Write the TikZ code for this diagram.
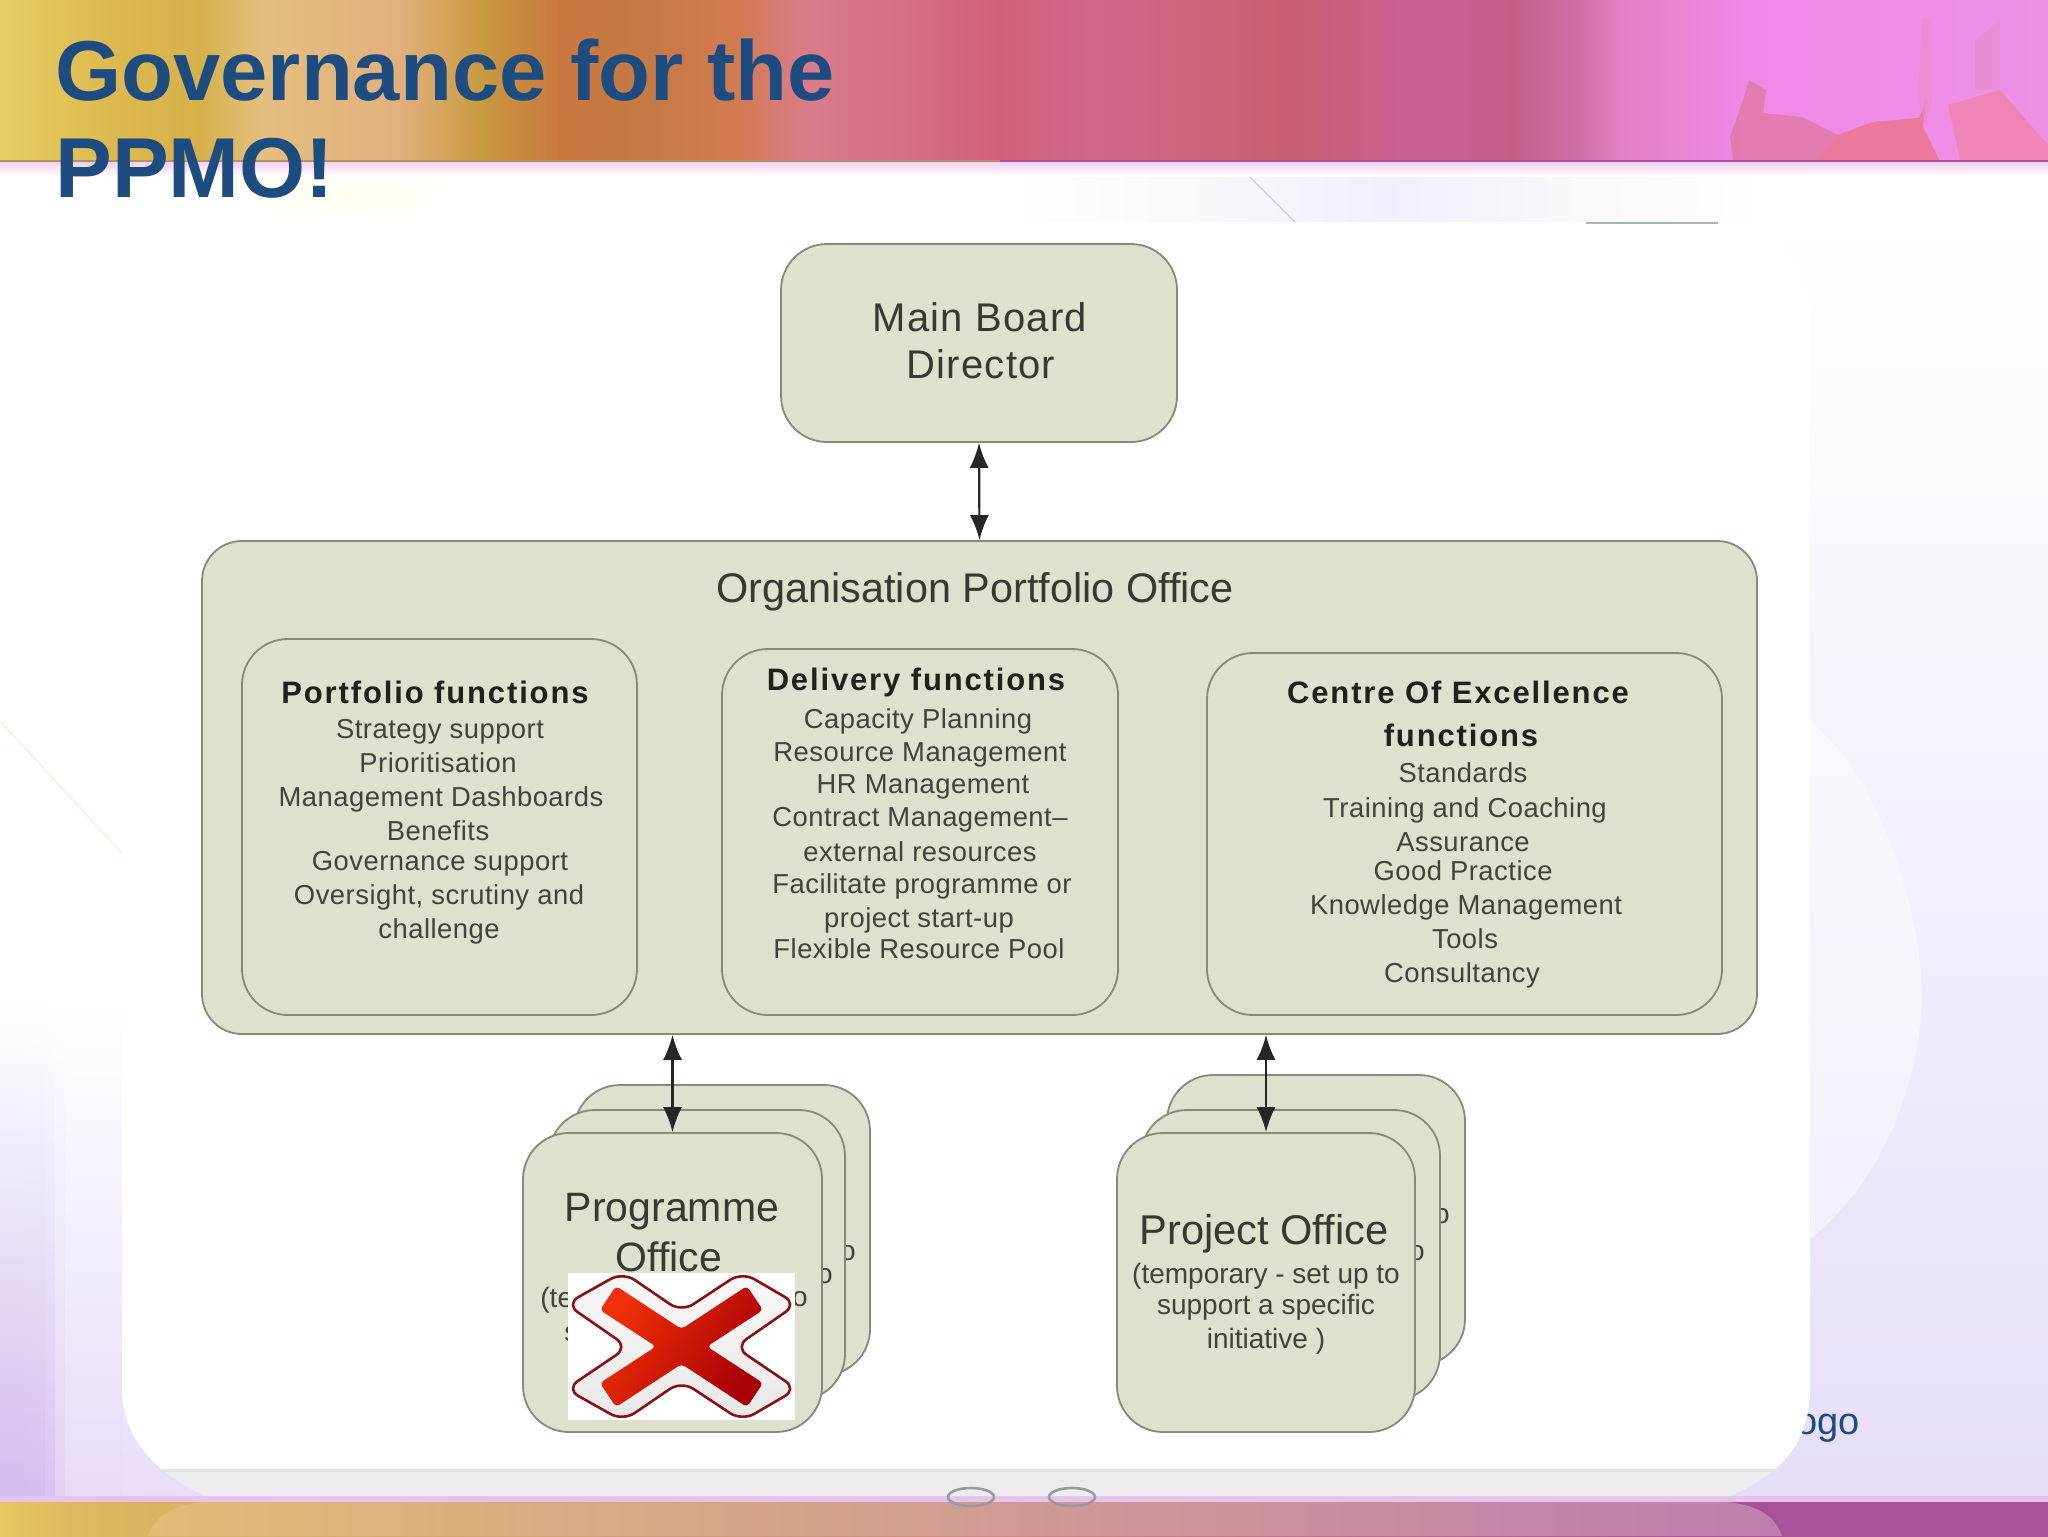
\documentclass[tikz,border=0pt]{standalone}
\usepackage{fontspec}
\setmainfont{Liberation Sans}
\newfontfamily\trackbold[LetterSpace=6]{Liberation Sans}
\newfontfamily\tracktext[LetterSpace=1.8]{Liberation Sans}
\usetikzlibrary{arrows.meta}
\newcommand{\pxfont}[1]{\fontsize{#1}{#1}\selectfont}
\newcommand{\hexcolor}[1]{\definecolor{c#1}{HTML}{#1}}
\hexcolor{F0F0FA}\hexcolor{D0BCEE}\hexcolor{F3EEFC}\hexcolor{E8DCF8}\hexcolor{F7F3FD}\hexcolor{E6DCF8}
\hexcolor{F4F0FC}\hexcolor{F4F4E6}\hexcolor{CFCFE0}\hexcolor{F0CDEE}\hexcolor{E07AA8}\hexcolor{F0788E}
\hexcolor{E88CC8}\hexcolor{F0809E}\hexcolor{B0906C}\hexcolor{A855A5}\hexcolor{E6C4EA}\hexcolor{E2BB74}
\hexcolor{D08C98}\hexcolor{BE7EB0}\hexcolor{EDEDF1}\hexcolor{E3E3E6}\hexcolor{A8B4B4}\hexcolor{9A9A9E}
\hexcolor{F8F8F8}\hexcolor{E8E8E8}\hexcolor{8E0F12}\hexcolor{F03008}\hexcolor{A80006}
\definecolor{titleblue}{HTML}{1C4C80}
\definecolor{cardfill}{HTML}{DDE1CD}
\definecolor{cardline}{HTML}{858A79}
\definecolor{bodytext}{HTML}{3F443C}
\definecolor{headtext}{HTML}{1E221C}
\definecolor{sectext}{HTML}{363A32}
\definecolor{ha}{HTML}{E5CF63}\definecolor{hb}{HTML}{DEBB50}\definecolor{hc}{HTML}{D6B04A}
\definecolor{hd}{HTML}{E3BF7E}\definecolor{he}{HTML}{E1B07C}\definecolor{hf}{HTML}{C99A40}
\definecolor{hg}{HTML}{C8783F}\definecolor{hh}{HTML}{C67A45}\definecolor{hi}{HTML}{D27A52}
\definecolor{hj}{HTML}{D97C8A}\definecolor{hk}{HTML}{D4708A}\definecolor{hl}{HTML}{D0607A}
\definecolor{hm}{HTML}{D0688C}\definecolor{hn}{HTML}{C86070}\definecolor{ho}{HTML}{C86090}
\definecolor{hp}{HTML}{C46088}\definecolor{hq}{HTML}{D070A8}\definecolor{hr}{HTML}{E480C4}
\definecolor{hs}{HTML}{F088E8}\definecolor{ht}{HTML}{EE90E4}
\definecolor{ba}{HTML}{E6C860}\definecolor{bb}{HTML}{DDB860}\definecolor{bc}{HTML}{C88A80}
\definecolor{bd}{HTML}{A85098}
\pgfdeclarehorizontalshading{headerband}{100bp}{
color(0bp)=(ha); color(25bp)=(ha); color(27.44bp)=(hb); color(29.88bp)=(hc);
color(31.35bp)=(hd); color(34.77bp)=(he); color(36.72bp)=(hf); color(38.67bp)=(hg);
color(40.87bp)=(hh); color(43.07bp)=(hi); color(44.63bp)=(hj); color(46.97bp)=(hk);
color(49.41bp)=(hl); color(51.61bp)=(hm); color(56.37bp)=(hn); color(59.18bp)=(ho);
color(61.96bp)=(hp); color(63.57bp)=(hq); color(64.55bp)=(hr); color(67.72bp)=(hs);
color(75bp)=(ht); color(100bp)=(ht)}
\pgfdeclarehorizontalshading{footerband}{100bp}{
color(0bp)=(ba); color(25bp)=(ba); color(26.8bp)=(bb); color(50bp)=(bc);
color(66bp)=(bd); color(75bp)=(bd); color(100bp)=(bd)}
\begin{document}
\begin{tikzpicture}[x=0.5pt,y=-0.5pt,
  card/.style={draw=cardline,line width=0.9pt,fill=cardfill,rounded corners=23pt,inner sep=0pt},
  txt/.style={inner sep=0pt,anchor=mid,yshift=-1.5pt,text=bodytext,font=\tracktext\pxfont{13.7pt}},
  subtxt/.style={txt,font=\pxfont{14pt}},
  sectitle/.style={inner sep=0pt,anchor=mid,yshift=-2.5pt,text=headtext,font=\trackbold\bfseries\pxfont{15.5pt}},
  bigtxt/.style={inner sep=0pt,anchor=mid,yshift=-4.5pt,text=sectext,font=\pxfont{20.5pt}},
  linkarrow/.style={{Latex[length=12.5pt,width=9.5pt]}-{Latex[length=12.5pt,width=9.5pt]},draw=black!85,line width=1.1pt},
  titletxt/.style={inner sep=0pt,anchor=base west,text=titleblue,font=\bfseries\pxfont{42.5pt}}]
\clip (0,0) rectangle (2048,1536);
\fill[white] (0,0) rectangle (2048,1536);
% background
\shade[left color=white,right color=white,middle color=cF0F0FA] (1010,163) rectangle (1760,222);
\shade[inner color=yellow!7,outer color=white] (220,165) rectangle (460,222);
\foreach \xa/\xb/\mixa in {0/25/100,25/45/95,45/55/75,55/65/35,65/122/5,122/300/0}{
  \shade[top color=white,middle color=cF3EEFC!\mixa!cF7F3FD,bottom color=cD0BCEE!\mixa!cE8DCF8] (\xa,1000) rectangle (\xb+1,1502);
}
\shade[top color=white,bottom color=cE6DCF8,middle color=cF4F0FC] (1650,222) rectangle (2048,1502);
\fill[white,opacity=0.45] (1810,721) .. controls (1873,770) and (1922,900) .. (1922,1002) .. controls (1915,1120) and (1860,1200) .. (1810,1239) -- cycle;
\draw[cF4F4E6,line width=1pt] (0,721) -- (122,853);
\draw[cCFCFE0,line width=0.6pt] (1236,163) -- (1295,222);
\shade[top color=cF0CDEE,bottom color=white] (0,161) rectangle (2048,176);
% header
\shade[shading=headerband] (0,0) rectangle (2048,161);
\fill[cE07AA8,opacity=0.85] (1733,160) -- (1730,137) -- (1743,100) -- (1749,80) -- (1766,90) -- (1763,113) -- (1802,117) -- (1838,135) -- (1873,122) -- (1919,118) -- (1926,100) -- (1923,127) -- (1939,160) -- cycle;
\fill[cF0788E,opacity=0.6] (1815,160) -- (1838,135) -- (1873,122) -- (1919,118) -- (1923,127) -- (1939,160) -- cycle;
\fill[cE88CC8,opacity=0.55] (1922,18) -- (1932,18) -- (1932,100) -- (1926,125) -- (1918,100) -- cycle;
\fill[cE88CC8,opacity=0.55] (1975,40) -- (2000,20) -- (2000,90) -- (1975,90) -- cycle;
\fill[cF0809E,opacity=0.65] (1948,105) -- (2000,90) -- (2048,145) -- (2048,160) -- (1960,160) -- cycle;
\fill[cB0906C] (0,160) rectangle (1000,162);
\fill[cA855A5] (1000,160) rectangle (2048,162);
% footer
\fill[cE6C4EA] (0,1496) rectangle (2048,1502);
\shade[shading=footerband] (0,1502) rectangle (2048,1536);
\shade[left color=cE2BB74,middle color=cD08C98,right color=cBE7EB0] (148,1536) .. controls (155,1515) and (175,1504) .. (205,1502) -- (1725,1502) .. controls (1755,1504) and (1775,1515) .. (1782,1536) -- cycle;
% logo placeholder, mostly behind the panel
\node[inner sep=0pt,anchor=base east,text=titleblue,font=\pxfont{19pt}] (logotext) at (1860,1434) {Logo};
% white panel
\begin{scope}
\path[clip] (190,222) -- (1720,222) .. controls (1785,228) and (1810,270) .. (1810,320) -- (1810,1388) .. controls (1810,1435) and (1790,1470) .. (1730,1496) -- (205,1496) .. controls (150,1470) and (122,1435) .. (122,1388) -- (122,335) .. controls (122,265) and (145,228) .. (190,222) -- cycle;
\fill[cEDEDF1] (100,1470) rectangle (1830,1500);
\fill[white] (100,200) rectangle (1830,1470);
\fill[cE3E3E6] (100,1469) rectangle (1830,1472);
\end{scope}
\draw[cA8B4B4,line width=0.8pt] (1586,223) -- (1718,223);
\draw[c9A9A9E,line width=1.3pt] (971,1497) ellipse (23 and 9);
\draw[c9A9A9E,line width=1.3pt] (1072,1497) ellipse (23 and 9);
% title
\node[titletxt] (titleone) at (55,100) {Governance for the};
\node[titletxt] (titletwo) at (55,197) {PPMO!};
% top boxes
\node[card,minimum width=198pt,minimum height=99pt] (board) at (979,343) {};
\node[bigtxt,font=\pxfont{20pt}] (boardone) at (980,317) {\addfontfeature{LetterSpace=3}Main Board};
\node[bigtxt,font=\pxfont{20pt}] (boardtwo) at (981,364) {\addfontfeature{LetterSpace=3}Director};
\node[card,minimum width=777.5pt,minimum height=246.5pt,rounded corners=20pt] (org) at (979.5,787.5) {};
\node[bigtxt,font=\pxfont{20.7pt}] (orgname) at (975,588) {Organisation Portfolio Office};
\node[card,minimum width=197.5pt,minimum height=188pt] (pf) at (439.5,827) {};
\node[card,minimum width=198pt,minimum height=183pt] (dl) at (920,832) {};
\node[card,minimum width=257.5pt,minimum height=181pt] (ce) at (1464.5,834) {};
% portfolio text
\node[sectitle] (pf0) at (435,693) {Portfolio functions};
\node[txt] (pf1) at (440,730) {Strategy support};
\node[txt] (pf2) at (438,764) {Prioritisation};
\node[txt] (pf3) at (441,798) {Management Dashboards};
\node[txt] (pf4) at (438,832) {Benefits};
\node[txt] (pf5) at (440,862) {Governance support};
\node[txt] (pf6) at (439,896) {Oversight, scrutiny and};
\node[txt] (pf7) at (439,930) {challenge};
% delivery text
\node[sectitle] (dl0) at (916,680) {Delivery functions};
\node[txt] (dl1) at (918,720) {Capacity Planning};
\node[txt] (dl2) at (920,753) {Resource Management};
\node[txt] (dl3) at (923,785) {HR Management};
\node[txt] (dl4) at (920,818) {Contract Management\textendash};
\node[txt] (dl5) at (920,853) {external resources};
\node[txt] (dl6) at (922,885) {Facilitate programme or};
\node[txt] (dl7) at (919,919) {project start-up};
\node[txt] (dl8) at (919,950) {Flexible Resource Pool};
% centre text
\node[sectitle] (ce0) at (1458,693) {Centre Of Excellence};
\node[sectitle] (ce1) at (1461,736) {functions};
\node[txt] (ce2) at (1463,774) {Standards};
\node[txt] (ce3) at (1465,809) {Training and Coaching};
\node[txt] (ce4) at (1463,843) {Assurance};
\node[txt] (ce5) at (1463,872) {Good Practice};
\node[txt] (ce6) at (1466,906) {Knowledge Management};
\node[txt] (ce7) at (1465,940) {Tools};
\node[txt] (ce8) at (1462,974) {Consultancy};
% programme stack
\node[card,minimum width=148pt,minimum height=145pt] (pgback) at (722,1230) {};
\node[subtxt] (pgbacko) at (848,1252) {o};
\node[card,minimum width=148pt,minimum height=145pt] (pgmid) at (697,1255) {};
\node[subtxt] (pgmido) at (825,1275) {o};
\node[card,minimum width=149.5pt,minimum height=149.5pt] (pgfront) at (672.5,1282.5) {};
\node[bigtxt] (pgone) at (672,1207) {Programme};
\node[bigtxt] (pgtwo) at (669,1257) {Office};
\node[subtxt,anchor=mid west] (pgsubl) at (540,1299) {(te};
\node[subtxt,anchor=mid west] (pgsubs) at (564,1333) {s};
\node[subtxt] (pgsubo) at (800,1298) {o};
% project stack
\node[card,minimum width=149pt,minimum height=145pt] (pjback) at (1316,1220) {};
\node[subtxt] (pjbacko) at (1442,1215) {o};
\node[card,minimum width=149.5pt,minimum height=145pt] (pjmid) at (1290.5,1255) {};
\node[subtxt] (pjmido) at (1417,1252) {o};
\node[card,minimum width=149pt,minimum height=149.5pt] (pjfront) at (1266,1282.5) {};
\node[bigtxt,font=\pxfont{20.8pt}] (pjone) at (1264,1230) {Project Office};
\node[subtxt] (pjtwo) at (1266,1275) {(temporary - set up to};
\node[subtxt] (pjthree) at (1266,1306) {support a specific};
\node[subtxt] (pjfour) at (1266,1340) {initiative )};
% connectors
\draw[linkarrow] (board.south) -- (org.north);
\draw[linkarrow] (pgfront.north |- org.south) -- (pgfront.north);
\draw[linkarrow] (pjfront.north |- org.south) -- (pjfront.north);
% cross icon
\fill[white] (568,1273) rectangle (795,1420);
\shade[draw=c8E0F12,line width=1.3pt,rounded corners=7pt,top color=cF8F8F8,bottom color=cE8E8E8]
 (566,1304) -- (623,1272) -- (681.5,1312) -- (742,1272) -- (797,1304) -- (735,1347) -- (797,1389) -- (742,1421) -- (681.5,1381) -- (623,1421) -- (566,1389) -- (628,1347) -- cycle;
\shade[left color=cF03008,right color=cA80006,shading angle=56,rounded corners=2pt]
 (600,1310) -- (616,1286) -- (681.5,1329) -- (747,1286) -- (763,1310) -- (707,1346.5) -- (763,1383) -- (747,1407) -- (681.5,1364) -- (616,1407) -- (600,1383) -- (656,1346.5) -- cycle;
\end{tikzpicture}
\end{document}
